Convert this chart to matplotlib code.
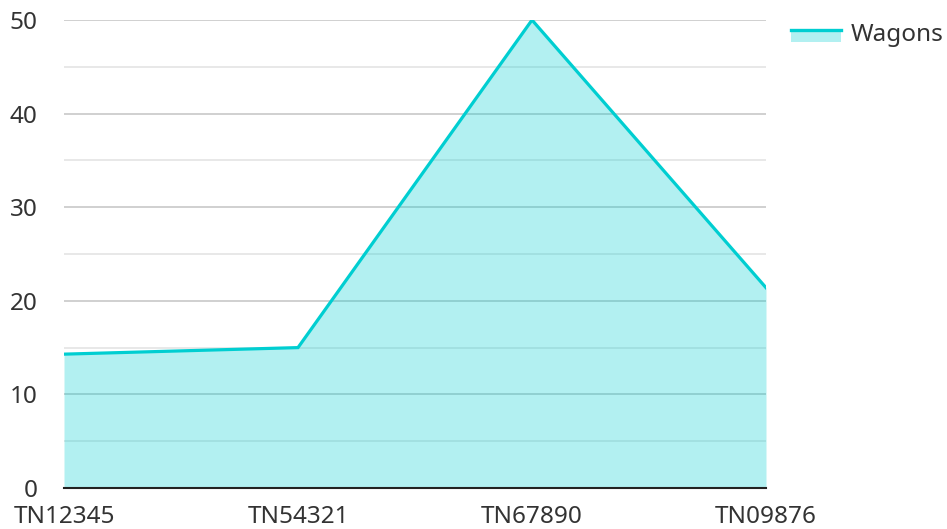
import matplotlib
matplotlib.use("Agg")
import matplotlib.pyplot as plt
from matplotlib.legend_handler import HandlerBase
from matplotlib.patches import Rectangle
from matplotlib.lines import Line2D
from matplotlib.ticker import MultipleLocator

categories = ["TN12345", "TN54321", "TN67890", "TN09876"]
wagons = [14.3, 15.0, 50.0, 21.4]
series_name = "Wagons"

line_color = "#00CED1"
text_color = "#333333"

plt.rcParams['font.family'] = ['Noto Sans', 'DejaVu Sans']

fig = plt.figure(figsize=(9.47, 5.29), dpi=100)
ax = fig.add_axes([64/947, 1-488/529, (766-64)/947, (488-20)/529])

x = list(range(len(categories)))
ax.fill_between(x, wagons, 0, color=line_color, alpha=0.3, linewidth=0, zorder=2)
ax.plot(x, wagons, color=line_color, linewidth=2.3, zorder=3, solid_joinstyle='miter')

ax.set_xlim(0, len(categories)-1)
ax.set_ylim(0, 50)
ax.yaxis.set_major_locator(MultipleLocator(10))
ax.yaxis.set_minor_locator(MultipleLocator(5))
ax.set_xticks(x)
ax.set_xticklabels(categories)

ax.grid(True, which='major', axis='y', color='#c8c8c8', linewidth=1.2, zorder=1)
ax.grid(True, which='minor', axis='y', color='#e4e4e4', linewidth=1.2, zorder=1)
ax.set_axisbelow(True)

for s in ['top', 'right', 'left']:
    ax.spines[s].set_visible(False)
ax.spines['bottom'].set_color('#222222')
ax.spines['bottom'].set_linewidth(1.5)
ax.spines['bottom'].set_zorder(4)

ax.tick_params(axis='both', which='both', length=0, labelsize=17.5, colors=text_color)
ax.tick_params(axis='y', pad=19)
ax.tick_params(axis='x', pad=12)


class AreaHandler(HandlerBase):
    def create_artists(self, legend, orig_handle, xdescent, ydescent, width, height, fontsize, trans):
        center = -ydescent + height / 2.0
        ltop = center + 2.0
        rect = Rectangle((-xdescent, ltop - 8.5), width, 8.5,
                         facecolor=line_color, alpha=0.3, edgecolor='none', transform=trans)
        ln = Line2D([-xdescent, -xdescent + width], [ltop, ltop], color=line_color,
                    linewidth=2.4, transform=trans)
        return [rect, ln]


proxy = Rectangle((0, 0), 1, 1)
leg = fig.legend([proxy], [series_name], handler_map={Rectangle: AreaHandler()},
                 loc='upper left', bbox_to_anchor=(791/947, 1-23/529), frameon=False,
                 fontsize=17.5, handlelength=2.05, handleheight=0.7, handletextpad=0.42,
                 borderaxespad=0, borderpad=0)
for t in leg.get_texts():
    t.set_color(text_color)

fig.savefig("out.png", dpi=100)
